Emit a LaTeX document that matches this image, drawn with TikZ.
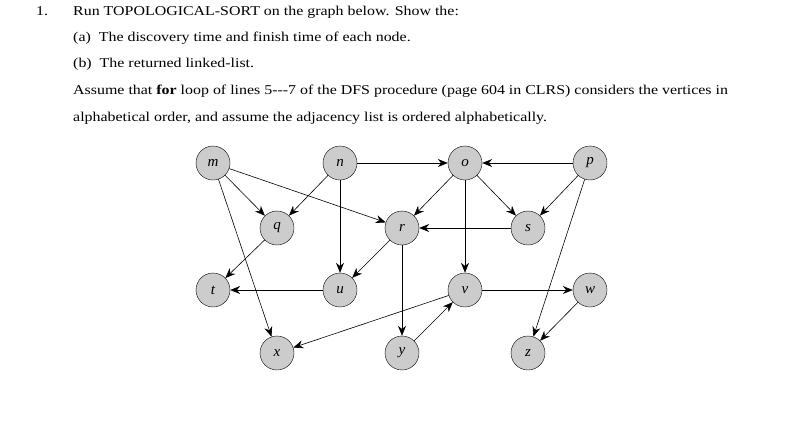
\documentclass[tikz,border=0pt]{standalone}
\usepackage{fontspec}
\setmainfont{Liberation Serif}
\newfontfamily\widefont[FakeStretch=1.18]{Liberation Serif}
\usetikzlibrary{arrows.meta}
\begin{document}
\begin{tikzpicture}[x=1pt,y=-1pt,
  v/.style={circle,draw,fill=black!20,minimum size=34pt,inner sep=0pt,font=\fontsize{15}{15}\selectfont\itshape},
  e/.style={->,>={Stealth[length=10pt,width=8pt]},line width=0.6pt},
  t/.style={anchor=base west,font=\widefont\fontsize{13.5}{15}\selectfont,inner sep=0pt}]
\useasboundingbox (0,0) rectangle (808,424);
\node[t] (l0) at (36,15) {1.};
\node[t] (l1) at (73,15) {Run TOPOLOGICAL-SORT on the graph below. Show the:};
\node[t] (l2) at (73,41) {(a)\ \ The discovery time and finish time of each node.};
\node[t] (l3) at (73,67) {(b)\ \ The returned linked-list.};
\node[t] (l4) at (73,94) {Assume that \textbf{for} loop of lines 5---7 of the DFS procedure (page 604 in CLRS) considers the vertices in};
\node[t] (l5) at (73,121) {alphabetical order, and assume the adjacency list is ordered alphabetically.};
\node[v] (m) at (213,163) {m};
\node[v] (n) at (340,163) {n};
\node[v] (o) at (465,163) {o};
\node[v] (p) at (590,163) {p};
\node[v] (q) at (277,228) {q};
\node[v] (r) at (402,228) {r};
\node[v] (s) at (528,228) {s};
\node[v] (t) at (213,290) {t};
\node[v] (u) at (340,290) {u};
\node[v] (vv) at (465,290) {v};
\node[v] (w) at (590,290) {w};
\node[v] (x) at (277,353) {x};
\node[v] (y) at (402,353) {y};
\node[v] (z) at (528,353) {z};
\draw[e] (m)--(q); \draw[e] (m)--(r); \draw[e] (m)--(x);
\draw[e] (n)--(q); \draw[e] (n)--(u); \draw[e] (n)--(o);
\draw[e] (o)--(r); \draw[e] (o)--(s); \draw[e] (o)--(vv);
\draw[e] (p)--(o); \draw[e] (p)--(s); \draw[e] (p)--(z);
\draw[e] (q)--(t); \draw[e] (r)--(u); \draw[e] (r)--(y);
\draw[e] (s)--(r); \draw[e] (u)--(t); \draw[e] (vv)--(w);
\draw[e] (vv)--(x); \draw[e] (y)--(vv); \draw[e] (w)--(z);
\end{tikzpicture}
\end{document}
